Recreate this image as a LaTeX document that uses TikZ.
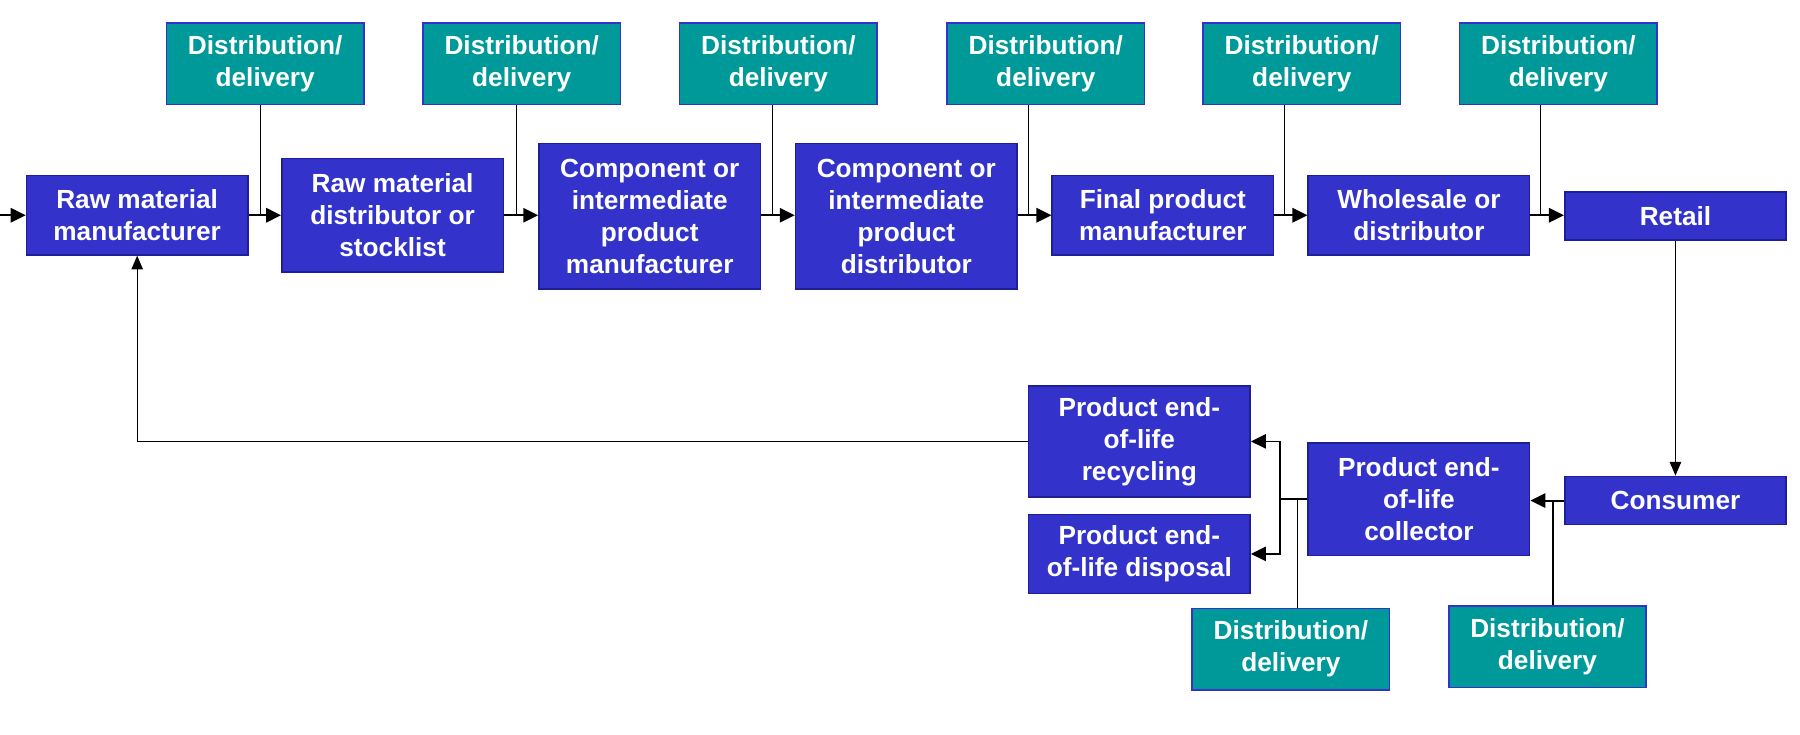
\documentclass[tikz,border=0pt]{standalone}
\usepackage{fontspec}
\setmainfont{Liberation Sans}
\usetikzlibrary{arrows,arrows.meta,shapes,positioning,calc}
\definecolor{chainblue}{RGB}{51,51,204}
\definecolor{chainedge}{RGB}{30,30,150}
\definecolor{delivteal}{RGB}{0,153,153}

\tikzset{
    stage/.style={draw=chainedge, fill=chainblue, text=white, line width=0.8pt,
        minimum width=3.86cm, align=center, inner sep=2pt,
        font=\fontsize{13}{15.9}\selectfont\bfseries},
    delivery/.style={draw=chainblue, fill=delivteal, text=white, line width=0.8pt,
        minimum width=3.44cm, minimum height=1.42cm, align=center, inner sep=2pt,
        font=\fontsize{13}{15.9}\selectfont\bfseries},
    flow/.style={-{Triangle[length=0.26cm,width=0.25cm]}, line width=1pt},
    thinflow/.style={-{Triangle[length=0.24cm,width=0.2cm]}, line width=0.6pt},
    feed/.style={line width=0.6pt}
}

\begin{document}
\begin{tikzpicture}[x=0.02cm, y=-0.02cm]
    \useasboundingbox (0,0) rectangle (1568,640);

    % Supply chain, left to right
    \node[stage, minimum height=1.38cm] (rawman) at (119.5,187.5) {Raw material\\manufacturer};
    \node[stage, minimum height=1.98cm] (rawdist) at (342,187.5) {Raw material\\distributor or\\stocklist};
    \node[stage, minimum height=2.54cm] (compman) at (566,188.5) {Component or\\intermediate\\product\\manufacturer};
    \node[stage, minimum height=2.54cm] (compdist) at (789.5,188.5) {Component or\\intermediate\\product\\distributor};
    \node[stage, minimum height=1.38cm] (finalman) at (1013,187.5) {Final product\\manufacturer};
    \node[stage, minimum height=1.38cm] (wholesale) at (1236,187.5) {Wholesale or\\distributor};
    \node[stage, minimum height=0.84cm] (retail) at (1459.5,188) {Retail};

    % End of life
    \node[stage, minimum height=0.84cm] (consumer) at (1459.5,436) {Consumer};
    \node[stage, minimum height=1.96cm] (collector) at (1236,435) {Product end-\\of-life\\collector};
    \node[stage, minimum height=1.94cm] (recycling) at (992.5,384.5) {Product end-\\of-life\\recycling};
    \node[stage, minimum height=1.38cm] (disposal) at (992.5,482.5) {Product end-\\of-life disposal};

    % Distribution/delivery boxes
    \foreach \x [count=\i] in {231,454.5,678,911,1134,1357.5}
        \node[delivery] (del\i) at (\x,55.5) {Distribution/\\delivery};
    \node[delivery] (delL) at (1124.5,565.5) {Distribution/\\delivery};
    \node[delivery] (delR) at (1348,563.5) {Distribution/\\delivery};

    % Joins of the delivery lines
    \coordinate (j1) at (227,187.5);
    \coordinate (j2) at (450,187.5);
    \coordinate (j3) at (673,187.5);
    \coordinate (j4) at (896,187.5);
    \coordinate (j5) at (1119,187.5);
    \coordinate (j6) at (1342,187.5);
    \coordinate (in) at (0,187.5);
    \coordinate (split) at (1115,435);
    \coordinate (jL) at (1130,435);
    \coordinate (jR) at (1353,436);
    \coordinate (back) at (119.5,384.5);

    % Forward flow
    \draw[flow] (in) -- (rawman.west);
    \draw[flow] (rawman.east |- j1) -- (rawdist.west |- j1);
    \draw[flow] (rawdist.east |- j2) -- (compman.west |- j2);
    \draw[flow] (compman.east |- j3) -- (compdist.west |- j3);
    \draw[flow] (compdist.east |- j4) -- (finalman.west |- j4);
    \draw[flow] (finalman.east |- j5) -- (wholesale.west |- j5);
    \draw[flow] (wholesale.east |- j6) -- (retail.west |- j6);
    \foreach \i in {1,...,6}
        \draw[feed] (del\i.south -| j\i) -- (j\i);

    \draw[thinflow] (retail) -- (consumer);
    \draw[flow] (consumer.west |- jR) -- (collector.east |- jR);
    \draw[feed, line width=0.8pt] (delR.north -| jR) -- (jR);

    % Collector splits into recycling and disposal
    \draw[line width=1pt] (collector.west |- split) -- (split);
    \draw[flow, line width=0.6pt] (split) |- (recycling.east);
    \draw[flow, line width=0.6pt] (split) |- (disposal.east);
    \draw[feed] (delL.north -| jL) -- (jL);

    % Recycled material goes back to the start
    \draw[thinflow] (recycling.west) -- (back) -- (rawman.south);
\end{tikzpicture}
\end{document}
